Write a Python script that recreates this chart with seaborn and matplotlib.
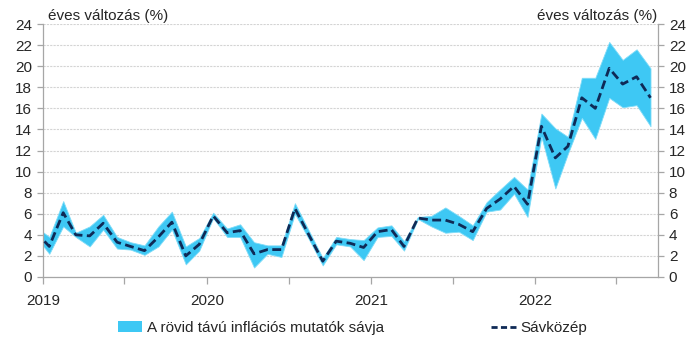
import matplotlib
matplotlib.use("Agg")
import matplotlib.pyplot as plt
import matplotlib.dates as mdates
from matplotlib.patches import Patch
from matplotlib.lines import Line2D
import seaborn as sns
import pandas as pd

# Monthly observations, December 2018 to September 2022
months = pd.date_range("2018-12-01", "2022-09-01", freq="MS")

band_mid = [4.3,
            2.9, 6.1, 4.0, 3.9, 5.1, 3.3, 2.9, 2.5, 3.8, 5.2, 2.0, 3.1,
            5.8, 4.2, 4.4, 2.2, 2.6, 2.6, 6.5, 4.0, 1.5, 3.4, 3.2, 2.8,
            4.3, 4.5, 2.9, 5.6, 5.4, 5.4, 5.0, 4.3, 6.5, 7.4, 8.6, 6.9,
            14.3, 11.3, 12.4, 17.0, 16.0, 19.8, 18.3, 19.0, 17.0]
band_low = [3.9,
            2.2, 4.8, 3.8, 2.9, 4.5, 2.7, 2.6, 2.1, 2.9, 4.5, 1.2, 2.5,
            5.6, 3.8, 3.8, 0.9, 2.2, 1.9, 6.0, 3.6, 1.1, 3.1, 2.9, 1.6,
            3.8, 3.9, 2.5, 5.5, 4.8, 4.2, 4.3, 3.5, 6.2, 6.4, 7.9, 5.7,
            13.3, 8.4, 11.7, 15.1, 13.1, 17.0, 16.1, 16.3, 14.3]
band_high = [4.8,
             3.8, 7.2, 4.2, 4.8, 5.9, 3.8, 3.3, 3.0, 4.8, 6.2, 2.9, 3.7,
             6.1, 4.6, 5.0, 3.3, 3.0, 3.0, 7.0, 4.4, 1.8, 3.8, 3.6, 3.5,
             4.7, 4.9, 3.4, 5.7, 5.8, 6.6, 5.8, 4.9, 7.1, 8.3, 9.5, 8.3,
             15.5, 14.1, 13.3, 18.9, 18.9, 22.3, 20.6, 21.6, 19.8]

year_labels = ["2019", "2020", "2021", "2022"]
y_title = "éves változás (%)"
band_label = "A rövid távú inflációs mutatók sávja"
mid_label = "Sávközép"

band_color = "#3ec8f4"
line_color = "#0f2a56"
axis_color = "#a6a6a6"
grid_color = "#d4d4d4"
text_color = "#262626"

sns.set_theme(style="white")
plt.rcParams["font.family"] = ["Liberation Sans Narrow", "Liberation Sans", "DejaVu Sans"]

df = pd.DataFrame({
    "date": months + pd.Timedelta(days=14),
    "mid": band_mid,
    "low": band_low,
    "high": band_high,
})

fig = plt.figure(figsize=(6.98, 3.42), dpi=100)
ax = fig.add_axes([43 / 698, 1 - 277 / 342, (657.7 - 43) / 698, (277 - 24) / 342])

ax.fill_between(df["date"], df["low"], df["high"], color=band_color, lw=0.6,
                edgecolor="#7fdcf8", zorder=2)
sns.lineplot(data=df, x="date", y="mid", ax=ax, color=line_color, lw=2.0,
             dashes=False, zorder=3, legend=False)
ax.lines[-1].set_dashes((3.2, 1.6))

ax.set_xlim(pd.Timestamp("2019-01-01"), pd.Timestamp("2022-10-01"))
ax.set_ylim(0, 24)
ax.set_yticks(range(0, 25, 2))
ax.yaxis.grid(True, color=grid_color, lw=0.8, linestyle=(0, (2, 1)))
ax.set_axisbelow(True)

ax.xaxis.set_major_locator(mdates.MonthLocator(bymonth=[1, 7]))
tick_dates = [pd.Timestamp(f"{y}-{m:02d}-01") for y in year_labels for m in (1, 7)]
ax.set_xticks(tick_dates)
ax.set_xticklabels([lbl if d.month == 1 else "" for d, lbl in
                    zip(tick_dates, [y for y in year_labels for _ in (1, 7)])])
ax.set_xlabel("")
ax.set_ylabel("")

for side in ("top",):
    ax.spines[side].set_visible(False)
for side in ("left", "right", "bottom"):
    ax.spines[side].set_visible(True)
    ax.spines[side].set_color(axis_color)
    ax.spines[side].set_linewidth(0.9)

ax.tick_params(axis="x", which="major", direction="out", length=5, width=0.9,
               color=axis_color, labelsize=11, labelcolor=text_color, pad=7,
               bottom=True)
ax.tick_params(axis="y", direction="out", length=4, width=0.9, color=axis_color,
               labelsize=11, labelcolor=text_color, left=True, right=True,
               labelleft=True, labelright=True, pad=4)

fig.text(48 / 698, 1 - 16 / 342, y_title, ha="left", va="center",
         fontsize=11, color=text_color)
fig.text(657 / 698, 1 - 16 / 342, y_title, ha="right", va="center",
         fontsize=11, color=text_color)

handles = [Patch(facecolor=band_color, edgecolor="none"),
           Line2D([0], [0], color=line_color, lw=2.0, dashes=(2.2, 1.2))]
fig.legend(handles, [band_label, mid_label], loc="center",
           bbox_to_anchor=(0.505, 1 - 328 / 342), ncol=2, frameon=False,
           fontsize=11, handlelength=1.6, handletextpad=0.3,
           columnspacing=7.0, labelcolor=text_color)

fig.savefig("out.png", dpi=100, facecolor="white")
